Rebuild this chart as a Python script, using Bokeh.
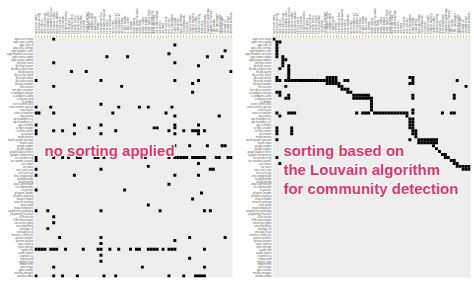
from bokeh.plotting import figure
from bokeh.models import FactorRange, Label, ColumnDataSource
from bokeh.layouts import row
from bokeh.embed import file_html
from bokeh.resources import INLINE

COL_LABELS = [
    "app.core.main", "app.core.config", "app.utils.io", "app.utils.strings",
    "app.models.user", "app.models.session", "app.views.index", "app.views.admin",
    "lib.http.client", "lib.http.server", "lib.db.connection", "lib.db.query",
    "lib.cache.store", "lib.auth.token", "lib.auth.oauth", "lib.log.handler",
    "net.socket", "net.dns.resolver", "ui.widgets.button", "ui.widgets.table",
    "ui.layout.grid", "ui.theme", "core.events.bus", "core.events.queue",
    "core.tasks", "core.scheduler", "api.routes", "api.handlers.v1",
    "api.handlers.v2", "api.schema", "io.files.reader", "io.files.writer",
    "io.stream", "math.matrix", "math.graph.louvain", "math.stats",
    "graph.nodes", "graph.edges", "graph.layout.force", "graph.community",
    "viz.render.svg", "viz.render.canvas", "viz.colors", "viz.axes",
    "test.unit.core", "test.unit.api", "test.integration", "build.bundle",
    "build.minify", "docs.generator", "cli.commands", "cli.parser",
    "plugins.loader", "plugins.registry", "search.index", "search.ranking",
    "mail.smtp", "mail.templates", "payments.gateway", "payments.invoice",
    "i18n.locale", "i18n.messages", "security.crypto", "security.hash",
    "storage.s3", "storage.local", "metrics.collector",
]

ROW_LABELS = COL_LABELS + [
    "queue.worker", "queue.broker", "sync.replica", "sync.merge",
    "audit.trail", "audit.report", "export.csv", "export.pdf",
    "import.json", "import.xml", "geo.maps", "geo.coords",
    "media.images", "media.video",
]

# (row index, [column indices]) of filled cells, unsorted matrix
UNSORTED_CELLS = [
    (0, [6]), (2, [47]), (4, [64]), (5, [45]), (6, [24, 31, 58, 63]),
    (8, [6, 47]), (9, [55]), (11, [12, 17, 66]), (14, [0, 22, 47, 55]),
    (15, [53]), (16, [6, 29]), (18, [53]), (22, [22]),
    (23, [0, 5, 28, 35, 38, 46]), (25, [0, 1, 6, 26, 44]), (26, [47, 62]),
    (29, [0, 13, 22, 47, 55]), (30, [18, 40, 41, 47]),
    (31, [0, 6, 9, 27, 45, 50, 53, 54, 55, 57]), (32, [0, 13, 22, 47, 55]),
    (36, [47, 52, 58, 63, 64]), (38, [38]),
    (40, [0, 6, 9, 11, 14, 15, 20, 21, 23, 33, 37, 45, 47, 48, 49, 50, 51,
          53, 54, 55, 56, 57, 61, 62, 65, 66]),
    (41, [0]), (42, [55]), (43, [38]), (44, [0, 22, 59, 60]),
    (46, [0, 13, 47, 55]), (49, [45]), (51, [0, 30]), (52, [56]), (54, [53]),
    (56, [38]), (58, [0, 4, 22, 42, 57, 59]), (60, [6]), (62, [6]), (64, [4]),
    (67, [8, 22, 52, 64]), (68, [47]), (69, [22]),
    (71, [0, 1, 2, 3, 5, 6, 7, 10, 16, 21, 22, 25, 28, 32, 34, 35, 38, 39,
          40, 41, 43, 45, 46, 47, 57]),
    (73, [22]), (74, [52]), (75, [22]), (77, [6, 36, 57]),
    (80, [0, 6, 9, 14, 23, 27, 45, 50, 54, 55, 56, 57]),
]

# (row index, [column indices]) of filled cells, Louvain-sorted matrix
SORTED_CELLS = [
    (0, [0]), (1, [1, 2]), (2, [1]), (3, [1]), (4, [1]), (5, [1]), (6, [1, 3]),
    (7, [3, 4]), (8, [3]), (9, [3, 5]), (10, [2, 5]), (11, [5]), (12, [5]),
    (13, [1, 5, 18, 19, 20, 21, 46, 47]),
    (14, [1, 2, 4, 5, 6, 7, 8, 9, 10, 11, 12, 13, 14, 15, 16, 17, 18, 19, 20,
          21, 24, 25, 47, 62]),
    (15, [18, 19, 20, 21, 22, 46, 47]), (16, [4, 22, 23, 65]),
    (17, [23, 24, 25]), (18, [1, 2, 25, 26]),
    (19, [2, 5, 27, 28, 29, 30, 31, 32, 47, 61]),
    (20, [4, 5, 27, 28, 29, 30, 31, 32, 33, 47, 61]),
    (21, [33]), (22, [33]), (23, [33]), (24, [33, 47]),
    (25, [1, 5, 6, 7, 28, 30, 31, 32, 34, 35, 36, 37, 38, 39, 40, 41, 42, 43,
          44, 45, 47, 57, 60, 61]),
    (26, [2, 45]), (27, [46, 47]), (28, [46, 47]), (29, [46, 47]),
    (30, [1, 6, 46, 47]), (31, [1, 6, 47, 48]), (32, [1, 6, 47, 48]),
    (33, [48]), (34, [1, 46, 49, 50, 51, 52, 53, 54, 55]),
    (35, [49, 50, 51, 52, 53, 54, 55]), (36, [54]), (37, [55]), (38, [56]),
    (39, [57, 58]), (40, [1, 58, 59]), (41, [60, 61]), (42, [2, 61, 62]),
    (43, [62, 63, 64, 65, 66]), (44, [46, 64, 65, 66]),
]

LEFT_TEXT = ["no sorting applied"]
RIGHT_TEXT = ["sorting based on", "the Louvain algorithm", "for community detection"]

PINK = "#e8306c"
CELL_BG = "#eeeeee"


def make_panel(cells, border_left, border_right, lines, x_text, y_first, y_step):
    xs, ys = [], []
    for r, cols in cells:
        for c in cols:
            xs.append(COL_LABELS[c])
            ys.append(ROW_LABELS[r])
    src = ColumnDataSource(dict(x=xs, y=ys))
    p = figure(
        x_range=FactorRange(factors=COL_LABELS, range_padding=0),
        y_range=FactorRange(factors=ROW_LABELS[::-1], range_padding=0),
        frame_width=198, frame_height=240,
        min_border_left=border_left, min_border_right=border_right,
        min_border_top=37, min_border_bottom=4,
        x_axis_location="above",
        toolbar_location=None, output_backend="svg",
    )
    p.background_fill_color = CELL_BG
    p.border_fill_color = "white"
    p.outline_line_color = None
    p.xgrid.grid_line_color = None
    p.ygrid.grid_line_color = None

    p.rect(x="x", y="y", width=1, height=1, source=src,
           fill_color="black", line_color=None)

    p.xaxis.major_label_orientation = "vertical"
    p.xaxis.major_label_text_font_size = "3px"
    p.xaxis.major_label_text_color = "#666666"
    p.xaxis.major_label_text_font = "Liberation Sans"
    p.xaxis.major_label_standoff = 2
    p.xaxis.major_tick_line_color = "#d2bc5e"
    p.xaxis.major_tick_line_width = 1
    p.xaxis.major_tick_out = 2
    p.xaxis.major_tick_in = 0
    p.xaxis.axis_line_color = None

    p.yaxis.major_label_text_font_size = "3px"
    p.yaxis.major_label_text_color = "#666666"
    p.yaxis.major_label_text_font = "Liberation Sans"
    p.yaxis.major_label_standoff = 1
    p.yaxis.major_tick_line_color = None
    p.yaxis.major_tick_out = 0
    p.yaxis.major_tick_in = 0
    p.yaxis.axis_line_color = None

    offsets = [(-1, -1), (-1, 0), (-1, 1), (0, -1), (0, 1), (1, -1), (1, 0), (1, 1)]
    for i, txt in enumerate(lines):
        y = y_first - i * y_step
        for dx, dy in offsets:
            p.add_layout(Label(x=x_text, y=y, text=txt, x_offset=dx, y_offset=dy,
                               text_color="white", text_font="Liberation Sans",
                               text_font_style="bold", text_font_size="15px",
                               text_baseline="alphabetic"))
        p.add_layout(Label(x=x_text, y=y, text=txt,
                           text_color=PINK, text_font="Liberation Sans",
                           text_font_style="bold", text_font_size="15px",
                           text_baseline="alphabetic"))
    return p


left = make_panel(UNSORTED_CELLS, 34, 4, LEFT_TEXT, 3.4, 42.9, 6.4)
right = make_panel(SORTED_CELLS, 36, 4, RIGHT_TEXT, 3.7, 42.9, 6.4)

layout = row(left, right)
open("out.html", "w").write(file_html(layout, INLINE))
